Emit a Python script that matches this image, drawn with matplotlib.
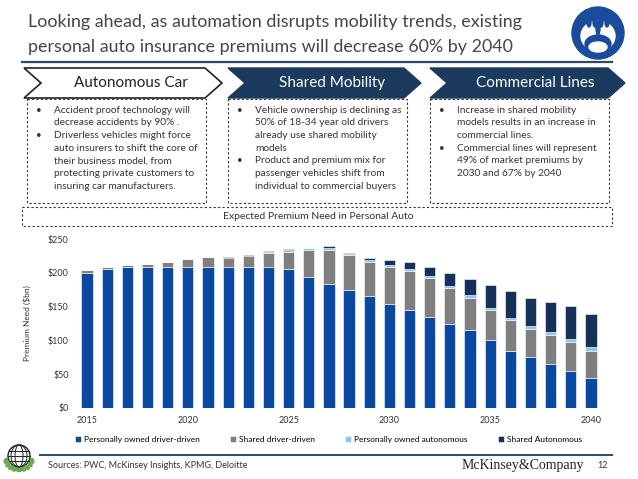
import matplotlib.pyplot as plt
import matplotlib.patches as mpatches
import numpy as np

plt.rcParams["font.family"] = ["Lato", "DejaVu Sans"]

# ── data ─────────────────────────────────────────────────────────────────────
years = list(range(2015, 2041))
personal_driver = [199, 205, 208, 208, 209, 209, 209, 209, 209, 209, 206, 194, 184,
                   175, 165, 154.5, 145, 135, 125, 115, 100, 85, 75, 64.5, 55, 45]
shared_driver = [5.5, 3, 3, 5, 7, 11, 14, 13, 16, 21, 25, 40, 50,
                 51, 51, 54.5, 58, 57.5, 53, 48, 44.5, 44.5, 42.5, 43, 43, 39.5]
personal_auto = [0, 0, 0, 0, 0, 0, 0, 0.5, 0.5, 1, 2.5, 2, 2.5,
                 2, 2.5, 3, 2.5, 3, 2.5, 3.5, 3, 3.5, 4.5, 5, 4.5, 5]
shared_auto = [0, 0, 0, 0, 0, 0, 0, 0.5, 0.5, 1, 1, 1, 2.5,
               1.5, 4, 7.5, 10.5, 13, 19.5, 25, 34.5, 39.5, 40, 44.5, 49, 49]

series = ["Personally owned driver-driven", "Shared driver-driven",
          "Personally owned autonomous", "Shared Autonomous"]
COLORS = ["#0b48a0", "#7f7f7f", "#86c8ee", "#15305a"]

yticks = [0, 50, 100, 150, 200, 250]
xticks = [2015, 2020, 2025, 2030, 2035, 2040]

title_lines = ["Looking ahead, as automation disrupts mobility trends, existing",
               "personal auto insurance premiums will decrease 60% by 2040"]
headers = ["Autonomous Car", "Shared Mobility", "Commercial Lines"]
box_texts = [
    [("•", "Accident proof technology will"), ("", "decrease accidents by 90% ."),
     ("•", "Driverless vehicles might force"), ("", "auto insurers to shift the core of"),
     ("", "their business model, from"), ("", "protecting private customers to"),
     ("", "insuring car manufacturers.")],
    [("•", "Vehicle ownership is declining as"), ("", "50% of 18-34 year old drivers"),
     ("", "already use shared mobility"), ("", "models"),
     ("•", "Product and premium mix for"), ("", "passenger vehicles shift from"),
     ("", "individual to commercial buyers")],
    [("•", "Increase in shared mobility"), ("", "models results in an increase in"),
     ("", "commercial lines."), ("•", "Commercial lines will represent"),
     ("", "49% of market premiums by"), ("", "2030 and 67% by 2040")],
]

NAVY = "#1b3a5e"
W, H = 638, 479
fig = plt.figure(figsize=(W / 100, H / 100), dpi=100)

# ── decoration layer in pixel coords ─────────────────────────────────────────
deco = fig.add_axes([0, 0, 1, 1])
deco.set_xlim(0, W)
deco.set_ylim(H, 0)
deco.axis("off")

for i, line in enumerate(title_lines):
    deco.text(28, 22 + i * 25, line, fontsize=12.9, color="#454545",
              va="center", ha="left")
deco.plot([22, 612], [62, 62], color="#2e4a6b", lw=1.6)

# logo
LOGO = "#1a4c9e"
deco.add_patch(mpatches.Circle((598, 33), 26, color=LOGO))
deco.add_patch(mpatches.Ellipse((598, 36), 34, 30, color="white"))
deco.add_patch(mpatches.Ellipse((598, 44), 26, 18, color=LOGO))
deco.add_patch(mpatches.Ellipse((598, 47), 18, 10, color="white"))
for dx in [-9, -3, 3, 9]:
    deco.add_patch(mpatches.Ellipse((598 + dx, 22), 4, 10, color=LOGO))
deco.add_patch(mpatches.Ellipse((598, 28), 4, 14, color=LOGO))

# chevrons
chev_x = [24, 228, 430]
chev_w = [181, 176, 178]
for i, (x0, w) in enumerate(zip(chev_x, chev_w)):
    pts = [(x0, 68), (x0 + w, 68), (x0 + w + 17, 83), (x0 + w, 98), (x0, 98), (x0 + 17, 83)]
    if i == 0:
        deco.add_patch(mpatches.Polygon(pts, closed=True, facecolor="white",
                                        edgecolor="#222222", lw=1.2))
        col = "#222222"
    else:
        deco.add_patch(mpatches.Polygon(pts, closed=True, facecolor=NAVY, edgecolor=NAVY))
        col = "white"
    deco.text(x0 + 8 + (w + 17) / 2, 83, headers[i], fontsize=11, color=col,
              ha="center", va="center")

# dashed text boxes
box_x = [27, 228, 430]
for x0, lines in zip(box_x, box_texts):
    deco.add_patch(mpatches.Rectangle((x0, 99), 179, 104, fill=False,
                                      edgecolor="#333333", lw=0.8, ls=(0, (2, 2))))
    for j, (b, t) in enumerate(lines):
        y = 110 + j * 12.7
        if b:
            deco.text(x0 + 9, y, b, fontsize=7, color="#333333", va="center")
        deco.text(x0 + 27, y, t, fontsize=7.3, color="#333333", va="center")

# chart heading
deco.add_patch(mpatches.Rectangle((22, 207), 590, 19, fill=False,
                                  edgecolor="#333333", lw=0.8, ls=(0, (2, 2))))
deco.text(318, 216.5, "Expected Premium Need in Personal Auto", fontsize=7.5,
          color="#333333", ha="center", va="center")

# footer
deco.plot([40, 612], [455, 455], color="#2e4a6b", lw=1.4)
deco.text(48, 466, "Sources: PWC, McKinsey Insights, KPMG, Deloitte", fontsize=6.5,
          color="#333333", va="center")
deco.text(584, 465, "McKinsey&Company", fontsize=10, color="#222222", ha="right",
          va="center", family=["Liberation Serif", "DejaVu Serif"])
deco.text(603, 465, "12", fontsize=6.5, color="#333333", ha="center", va="center")

# globe logo
deco.add_patch(mpatches.Circle((19, 456), 11, fill=False, edgecolor="#222222", lw=1.0))
for w in [4, 8]:
    deco.add_patch(mpatches.Ellipse((19, 456), w * 2, 22, fill=False,
                                    edgecolor="#222222", lw=0.7))
for dy in [-5, 0, 5]:
    half = np.sqrt(121 - dy ** 2)
    deco.plot([19 - half, 19 + half], [456 + dy, 456 + dy], color="#222222", lw=0.7)
for k in range(9):
    a = np.deg2rad(200 + k * 17.5)
    deco.add_patch(mpatches.Ellipse((19 + 14 * np.cos(a), 456 - 14 * np.sin(a)), 3, 5,
                                    angle=np.rad2deg(a), color="#6aa84f"))

# ── chart ────────────────────────────────────────────────────────────────────
ax = fig.add_axes([77 / W, (H - 408) / H, 524 / W, 169 / H])
bottom = np.zeros(len(years))
for name, vals, c in zip(series, [personal_driver, shared_driver, personal_auto, shared_auto], COLORS):
    ax.bar(years, vals, width=0.56, bottom=bottom, color=c, edgecolor="white",
           linewidth=0.4, label=name)
    bottom += np.array(vals)

ax.set_xlim(2014.5, 2040.5)
ax.set_ylim(0, 250)
ax.set_yticks(yticks)
ax.set_yticklabels([f"${v}" for v in yticks], fontsize=6.5, color="#333333")
ax.set_xticks(xticks)
ax.set_xticklabels([str(x) for x in xticks], fontsize=6.5, color="#333333")
ax.tick_params(length=0, pad=6)
for s in ax.spines.values():
    s.set_visible(False)
ax.set_ylabel("Premium Need ($bn)", fontsize=6, color="#333333", labelpad=12)

ax.legend(loc="upper center", bbox_to_anchor=(0.48, -0.12), ncol=4, frameon=False,
          fontsize=6, handlelength=0.7, handleheight=0.7, columnspacing=3.6,
          handletextpad=0.4)

fig.savefig("out.png", dpi=100)
